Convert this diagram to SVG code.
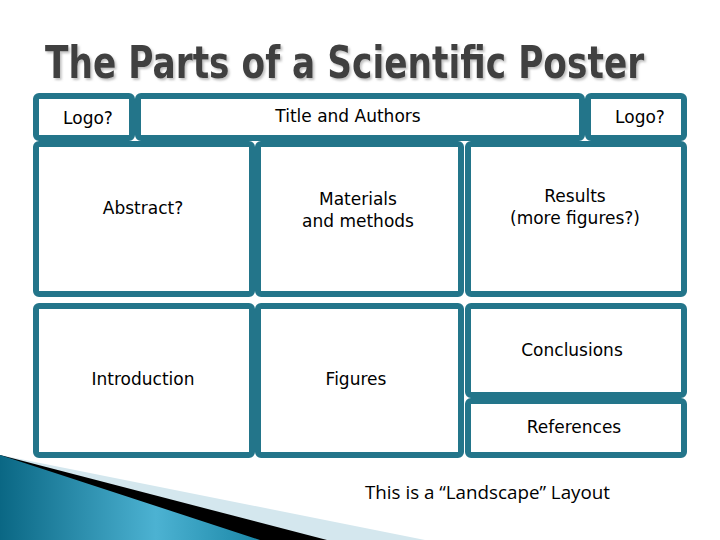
<svg xmlns="http://www.w3.org/2000/svg" width="720" height="540" viewBox="0 0 720 540">
  <defs>
    <style>
      .box { fill: #ffffff; stroke: #23758a; stroke-width: 6; }
      .lbl { font-family: "DejaVu Sans", "Open Sans", sans-serif; font-size: 17px; fill: #000000; text-anchor: middle; }
      .title { font-family: "DejaVu Sans Condensed", "DejaVu Sans", sans-serif; font-weight: bold; font-size: 45px; }
    </style>
    <filter id="shadow" filterUnits="userSpaceOnUse" x="-20" y="-60" width="900" height="90">
      <feDropShadow dx="2" dy="2" stdDeviation="1" flood-color="#b0b0b0" flood-opacity="0.8"/>
    </filter>
    <linearGradient id="swoosh" x1="0" y1="0" x2="1" y2="0">
      <stop offset="0" stop-color="#0a6784"/>
      <stop offset="0.6" stop-color="#4cb2d2"/>
      <stop offset="1" stop-color="#1b87a7"/>
    </linearGradient>
  </defs>
  <rect width="720" height="540" fill="#ffffff"/>

  <!-- title -->
  <g transform="translate(45,78) scale(0.85,1)">
    <text class="title" x="0" y="0" fill="#404040" filter="url(#shadow)">The Parts of a Scientific Poster</text>
  </g>

  <!-- decoration -->
  <g id="decoration">
    <polygon points="0,455 425,540 0,540" fill="#d4e7ee"/>
    <polygon points="0,455 327,540 0,540" fill="#000000"/>
    <polygon points="0,455 260,540 0,540" fill="url(#swoosh)"/>
  </g>

  <g id="logo-left">
    <rect class="box" x="36" y="96" width="96" height="42" rx="3"/>
    <text class="lbl" x="88" y="124">Logo?</text>
  </g>
  <g id="title-authors">
    <rect class="box" x="138" y="96" width="444" height="42" rx="3"/>
    <text class="lbl" x="348" y="122">Title and Authors</text>
  </g>
  <g id="logo-right">
    <rect class="box" x="588" y="96" width="96" height="42" rx="3"/>
    <text class="lbl" x="640" y="123">Logo?</text>
  </g>

  <g id="abstract">
    <rect class="box" x="36" y="144" width="216" height="150" rx="3"/>
    <text class="lbl" x="143" y="214">Abstract?</text>
  </g>
  <g id="materials">
    <rect class="box" x="258" y="144" width="203" height="150" rx="3"/>
    <text class="lbl" x="358" y="205">Materials</text>
    <text class="lbl" x="358" y="227">and methods</text>
  </g>
  <g id="results">
    <rect class="box" x="468" y="144" width="216" height="150" rx="3"/>
    <text class="lbl" x="575" y="202">Results</text>
    <text class="lbl" x="575" y="224">(more figures?)</text>
  </g>

  <g id="introduction">
    <rect class="box" x="36" y="306" width="216" height="149" rx="3"/>
    <text class="lbl" x="143" y="385">Introduction</text>
  </g>
  <g id="figures">
    <rect class="box" x="258" y="306" width="203" height="149" rx="3"/>
    <text class="lbl" x="356" y="385">Figures</text>
  </g>
  <g id="conclusions">
    <rect class="box" x="468" y="306" width="216" height="89" rx="3"/>
    <text class="lbl" x="572" y="356">Conclusions</text>
  </g>
  <g id="references">
    <rect class="box" x="468" y="401" width="216" height="54" rx="3"/>
    <text class="lbl" x="574" y="433">References</text>
  </g>

  <g id="connectors"></g>

  <text x="365" y="499" font-family="'Open Sans', 'DejaVu Sans', sans-serif" font-size="18" fill="#000000" textLength="245" lengthAdjust="spacingAndGlyphs">This is a “Landscape” Layout</text>
</svg>
